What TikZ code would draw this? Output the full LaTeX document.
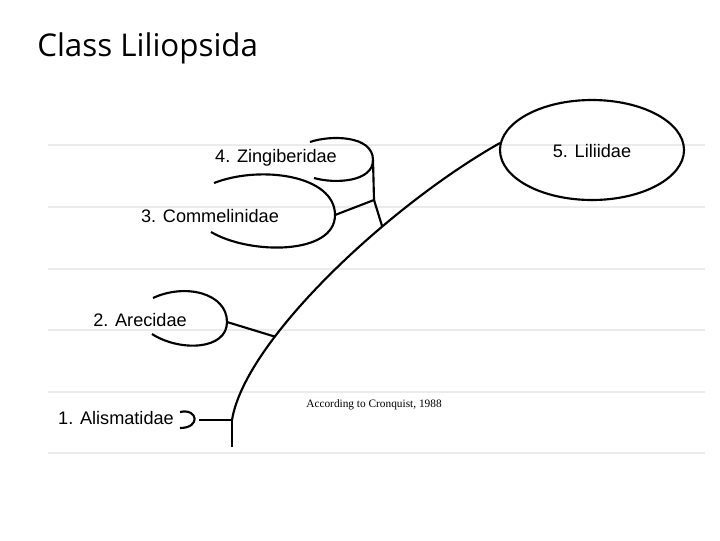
\documentclass[tikz,border=0pt]{standalone}
\usepackage{fontspec}
\setmainfont{Liberation Sans}
\newfontfamily\timesf{Liberation Serif}
\newfontfamily\titlef{Open Sans}
\begin{document}
\begin{tikzpicture}[x=0.75pt,y=-0.75pt,
  br/.style={line width=1.6pt,black},
  rule/.style={draw=black!8,line width=0.8pt},
  lab/.style={font=\fontsize{13.6}{16}\selectfont,inner sep=0pt}]
\useasboundingbox (0,0) rectangle (720,540);
\foreach \y in {145,207,269,330,392,453} \draw[rule] (48,\y) -- (705,\y);
\node[anchor=west,font=\titlef\fontsize{23.5}{27}\selectfont,inner sep=0pt] (title) at (37,48) {Class Liliopsida};
% main curve
\coordinate (base) at (232,447);
\coordinate (c1) at (232,420);
\coordinate (top) at (500,143);
\draw[br] (base) -- (c1);
\draw[br] (c1) .. controls (245,340) and (390,205) .. coordinate[pos=0.3] (c2) coordinate[pos=0.66] (c3) (top);
% Liliidae
\draw[br] (592,150) ellipse [x radius=92, y radius=50];
\node[lab] (lil) at (592,151) {5. Liliidae};
% Zingiberidae
\draw[br] (310,142) .. controls (330,135) and (373,135) .. (373,160) .. controls (373,182) and (335,184) .. (314,178);
\node[lab] (zin) at (276,158) {4. Zingiberidae};
% Commelinidae
\draw[br] (214,183) .. controls (260,165) and (335,175) .. (335,215) .. controls (335,255) and (250,255) .. (211,232);
\node[lab] (com) at (210,216) {3. Commelinidae};
\coordinate (j) at (374,200);
\draw[br] (373,160) -- (j) -- (335,215);
\draw[br] (j) -- (c3);
% Arecidae
\draw[br] (153,298) .. controls (185,283) and (227,293) .. (227,322) .. controls (227,350) and (180,352) .. (152,334);
\node[lab] (are) at (140,320) {2. Arecidae};
\draw[br] (227,322) -- (c2);
% Alismatidae
\draw[br] (180,412) .. controls (198,408) and (201,428) .. (180,428);
\draw[br] (199,420) -- (c1);
\node[lab] (ali) at (116,418) {1. Alismatidae};
\node[font=\timesf\fontsize{8.5}{10}\selectfont] (src) at (374,405) {According to Cronquist, 1988};
\end{tikzpicture}
\end{document}
